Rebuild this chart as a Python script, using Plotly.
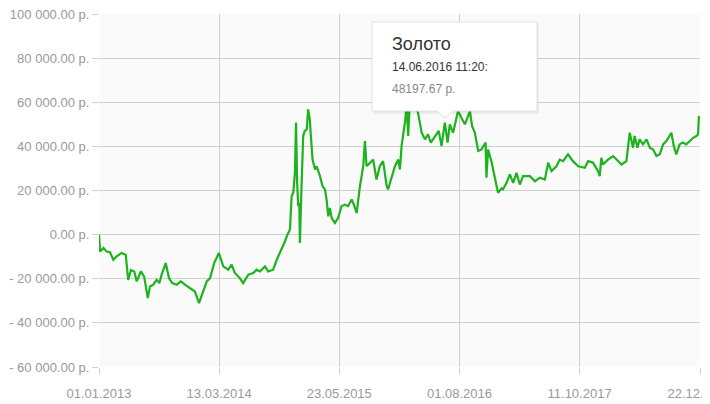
import pandas as pd
import plotly.graph_objects as go

# Day offsets from 01.01.2013 and profit values (rubles)
day_offsets = [0, 4, 16, 28, 40, 52, 64, 82, 97, 106, 116, 128, 137, 152, 164, 177, 185, 197, 209, 219,
               227, 242, 254, 266, 282, 297, 312, 330, 348, 363, 373, 391, 403, 418, 435, 451, 469, 481,
               493, 511, 523, 542, 560, 572, 584, 602, 614, 632, 645, 663, 675, 684, 693, 699, 705, 711,
               715, 719, 723, 727, 729, 735, 741, 747, 754, 759, 765, 768, 775, 784, 790, 802, 811, 820,
               826, 832, 838, 844, 856, 868, 880, 892, 904, 917, 925, 935, 947, 959, 965, 971, 983, 995,
               1007, 1019, 1031, 1044, 1049, 1062, 1074, 1086, 1092, 1098, 1107, 1112, 1116, 1122, 1128,
               1143, 1158, 1171, 1183, 1194, 1204, 1219, 1233, 1243, 1255, 1265, 1273, 1285, 1303, 1318,
               1328, 1346, 1354, 1364, 1376, 1388, 1403, 1406, 1412, 1424, 1436, 1448, 1461, 1466, 1479,
               1491, 1503, 1515, 1527, 1539, 1564, 1582, 1600, 1618, 1630, 1642, 1660, 1672, 1684, 1702,
               1720, 1739, 1763, 1775, 1793, 1811, 1817, 1823, 1829, 1847, 1866, 1878, 1896, 1914, 1926,
               1938, 1944, 1954, 1962, 1974, 1987, 1999, 2011, 2023, 2035, 2047, 2059, 2077, 2086, 2095,
               2107, 2119, 2131, 2144, 2156, 2168, 2174, 2177]
values = [0, -7700, -6000, -7700, -8000, -11400, -9800, -8300, -9100, -20500, -16000, -16700, -21200,
          -16700, -19000, -28800, -23500, -22700, -20500, -22000, -18200, -12900, -19700, -22000, -22700,
          -21200, -22700, -24200, -25800, -31000, -27300, -21200, -19700, -12900, -8300, -14400, -15900,
          -13600, -17400, -19700, -22000, -18200, -17400, -15900, -16700, -14400, -16700, -15900, -11400,
          -6800, -3000, 0, 2300, 17400, 19000, 28000, 50800, 23500, 12900, 14400, -3800, 22000, 44700,
          47000, 47700, 56800, 52300, 46300, 34000, 29500, 31000, 26500, 22000, 20500, 15900, 8300, 12100,
          7600, 5300, 7600, 12900, 13600, 12900, 15900, 13600, 9800, 22000, 31000, 42400, 31000, 32600,
          34000, 25000, 31000, 33300, 22000, 20500, 26500, 31000, 34000, 29500, 40100, 47700, 52300, 60000,
          44700, 60000, 62000, 55000, 46200, 43200, 45500, 41700, 44700, 47000, 40100, 50800, 41700, 50000,
          46200, 56000, 52300, 50000, 56000, 49200, 46200, 37900, 38600, 41700, 25800, 38600, 33300, 26500,
          19000, 21000, 20500, 23500, 27300, 23500, 28000, 22700, 26500, 26500, 24200, 25800, 25000, 32600,
          28800, 31000, 34000, 33300, 36400, 33300, 31000, 30300, 33300, 32600, 28800, 26500, 34800, 31800,
          34000, 35600, 34000, 31800, 33300, 46200, 39400, 44700, 39400, 43200, 40900, 43200, 39400, 38600,
          35600, 36400, 40900, 42400, 46200, 40100, 36400, 40900, 41700, 40900, 42400, 43900, 44700, 45500,
          53800]

start_date = "2013-01-01"
x_tick_dates = ["2013-01-01", "2014-03-13", "2015-05-23", "2016-08-01", "2017-10-11", "2018-12-22"]
x_tick_text = ["01.01.2013", "13.03.2014", "23.05.2015", "01.08.2016", "11.10.2017", "22.12.2018"]
y_tick_vals = [100000, 80000, 60000, 40000, 20000, 0, -20000, -40000, -60000]
y_tick_text = ["100 000.00 р.", "80 000.00 р.", "60 000.00 р.", "40 000.00 р.", "20 000.00 р.",
               "0.00 р.", "- 20 000.00 р.", "- 40 000.00 р.", "- 60 000.00 р."]

tooltip_title = "Золото"
tooltip_date = "14.06.2016 11:20:"
tooltip_value = "48197.67 р."

dates = pd.Timestamp(start_date) + pd.to_timedelta(day_offsets, unit="D")

fig = go.Figure()
fig.add_trace(go.Scatter(x=dates, y=values, mode="lines",
                         line=dict(color="#1cb31c", width=2.2), hoverinfo="skip"))

FONT = "Liberation Sans, Arial, sans-serif"
# the page body has an 8px margin, so the figure is sized/offset to compensate
fig.update_layout(
    width=702, height=396,
    margin=dict(l=91, r=10, t=6, b=37),
    paper_bgcolor="white", plot_bgcolor="#fafafa",
    showlegend=False,
    font=dict(family=FONT, size=13, color="#9a9a9a"),
    xaxis=dict(range=[x_tick_dates[0], x_tick_dates[-1]], tickvals=x_tick_dates, ticktext=x_tick_text,
               showgrid=True, gridcolor="#cfcfcf", gridwidth=1, zeroline=False,
               ticks="outside", ticklen=6, tickcolor="#cfcfcf", showline=False,
               tickfont=dict(size=13, color="#9a9a9a"), ticklabelstandoff=8,
               ticklabeloverflow="allow", automargin=False),
    yaxis=dict(range=[-60000, 100000], tickvals=y_tick_vals, ticktext=y_tick_text,
               showgrid=True, gridcolor="#cfcfcf", gridwidth=1, zeroline=False,
               ticks="outside", ticklen=6, tickcolor="#cfcfcf", showline=False,
               tickfont=dict(size=13, color="#9a9a9a"), ticklabeloverflow="allow",
               automargin=False),
)

# tooltip box (paper coordinates)
bx0, bx1, by0, by1 = 0.4542, 0.7288, 0.7252, 0.9773
fig.add_shape(type="rect", xref="paper", yref="paper", x0=bx0 + 0.003, x1=bx1 + 0.003,
              y0=by0 - 0.008, y1=by1 - 0.004, fillcolor="rgba(0,0,0,0.07)", line=dict(width=0))
fig.add_shape(type="rect", xref="paper", yref="paper", x0=bx0, x1=bx1, y0=by0, y1=by1,
              fillcolor="white", line=dict(color="#e2e2e2", width=1))
fig.add_shape(type="path", xref="paper", yref="paper",
              path=f"M 0.5624 {by0} L 0.5757 0.7054 L 0.5890 {by0} Z",
              fillcolor="white", line=dict(color="#e2e2e2", width=1))
fig.add_shape(type="line", xref="paper", yref="paper", x0=0.5634, x1=0.5880, y0=by0, y1=by0,
              line=dict(color="white", width=2))

tx = 0.4842
fig.add_annotation(xref="paper", yref="paper", x=tx, y=0.915, text=tooltip_title, showarrow=False,
                   xanchor="left", yanchor="middle", font=dict(family=FONT, size=18, color="#333333"))
fig.add_annotation(xref="paper", yref="paper", x=tx, y=0.8499, text=tooltip_date, showarrow=False,
                   xanchor="left", yanchor="middle", font=dict(family=FONT, size=12, color="#333333"))
fig.add_annotation(xref="paper", yref="paper", x=tx, y=0.7875, text=tooltip_value, showarrow=False,
                   xanchor="left", yanchor="middle", font=dict(family=FONT, size=12, color="#888888"))

fig.write_html("out.html")
